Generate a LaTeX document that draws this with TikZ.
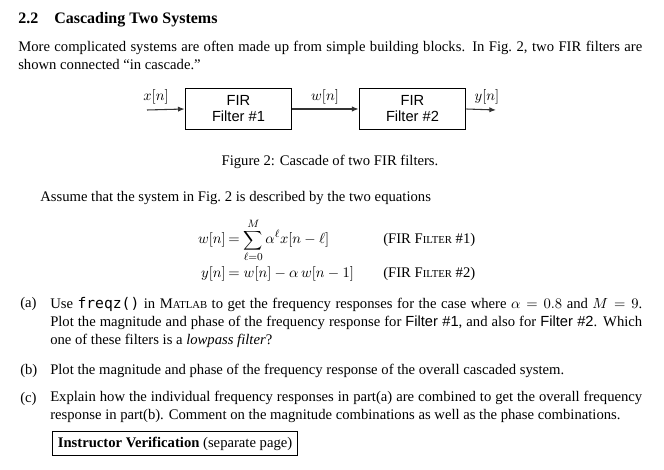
\documentclass[tikz,border=0pt]{standalone}
\usepackage{fontspec}
\setmainfont{Liberation Serif}
\setsansfont{Liberation Sans}
\setmonofont{DejaVu Sans Mono}
\usetikzlibrary{positioning, arrows.meta}
\newcommand{\FakeSC}[2]{#1{\footnotesize #2}}
\tikzset{
  txt/.style={anchor=north west, inner sep=0pt, align=justify, font=\fontsize{11}{13.6}\selectfont},
  blk/.style={draw, thick, minimum width=80pt, minimum height=31pt, align=center, font=\sffamily\fontsize{11}{12}\selectfont},
  sig/.style={font=\fontsize{11}{12}\selectfont, inner sep=1pt},
  wire/.style={thick, black!80, -{Latex[length=5pt,width=4pt]}}
}
\begin{document}
\begin{tikzpicture}[x=0.75pt,y=-0.75pt]
\useasboundingbox (0,0) rectangle (664,470);
% heading and text
\node[txt, font=\bfseries\fontsize{12}{14}\selectfont] (head) at (18,12) {2.2\quad Cascading Two Systems};
\node[txt, text width=468pt] (intro) at (18,41) {More complicated systems are often made up from simple building blocks. In Fig.~2, two FIR filters are shown connected ``in cascade.''};

% block diagram
\coordinate (in) at (147,110);
\node[blk] (f1) at (238.5,109) {FIR\\Filter \#1};
\node[blk] (f2) at (412.5,109) {FIR\\Filter \#2};
\coordinate (out) at (496,110);
\draw[wire] (in) -- (f1.west);
\draw[wire] (f1.east) -- (f2.west);
\draw[wire] (f2.east) -- (out);
\node[sig] (lx) at (156,97) {$x[n]$};
\node[sig] (lw) at (325,97) {$w[n]$};
\node[sig] (ly) at (487,97) {$y[n]$};

\node[txt, anchor=base] (cap) at (330,166) {Figure 2: Cascade of two FIR filters.};
\node[txt, anchor=base west] (assume) at (40,202) {Assume that the system in Fig.~2 is described by the two equations};

% equations
\node[txt, anchor=base east] (e1l) at (226,244) {$w[n]$};
\node[txt, anchor=base west] (e1r) at (228,244) {$\displaystyle =\sum_{\ell=0}^{M}\alpha^{\ell}x[n-\ell]$};
\node[txt, anchor=base east] (e2l) at (226,278) {$y[n]$};
\node[txt, anchor=base west] (e2r) at (228,278) {$=w[n]-\alpha\,w[n-1]$};
\node[txt, anchor=base west] (t1) at (383,244) {(FIR \FakeSC{F}{ILTER} \#1)};
\node[txt, anchor=base west] (t2) at (383,278) {(FIR \FakeSC{F}{ILTER} \#2)};

% items
\node[txt, anchor=base west] (la) at (20,308) {(a)};
\node[txt, text width=444pt] (ia) at (50,297) {Use \texttt{freqz()} in \FakeSC{M}{ATLAB} to get the frequency responses for the case where $\alpha=0.8$ and $M=9$. Plot the magnitude and phase of the frequency response for \textsf{Filter \#1}, and also for \textsf{Filter \#2}. Which one of these filters is a \emph{lowpass filter}?};
\node[txt, anchor=base west] (lb) at (20,374) {(b)};
\node[txt, anchor=base west] (ib) at (50,374) {Plot the magnitude and phase of the frequency response of the overall cascaded system.};
\node[txt, anchor=base west] (lc) at (20,402) {(c)};
\node[txt, text width=444pt] (ic) at (50,391) {Explain how the individual frequency responses in part(a) are combined to get the overall frequency response in part(b). Comment on the magnitude combinations as well as the phase combinations.};
\node[txt, draw, thick, anchor=north west, inner xsep=4pt, inner ysep=4pt] (ver) at (52,431) {\textbf{Instructor Verification} (separate page)};
\end{tikzpicture}
\end{document}
